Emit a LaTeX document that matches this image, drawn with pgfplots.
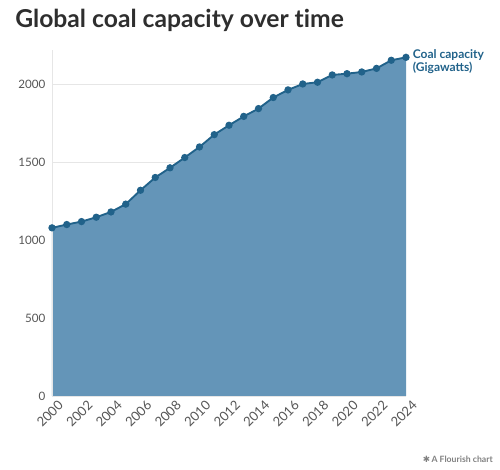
\documentclass[border=0pt]{standalone}
\usepackage{pgfplots}
\pgfplotsset{compat=1.18}
\usepackage{fontspec}
\setmainfont{Lato}[Contextuals=NoAlternate]
\newfontfamily\symfont{DejaVu Sans}
\definecolor{areafill}{HTML}{6495B8}
\definecolor{linecol}{HTML}{21628A}
\definecolor{ticktext}{HTML}{555555}
\definecolor{gridcol}{HTML}{E6E6E6}
\definecolor{titlecol}{HTML}{2E2E2E}
\pgfplotstableread{
year value
2000 1079
2001 1100
2002 1119
2003 1147
2004 1181
2005 1231
2006 1320
2007 1402
2008 1464
2009 1530
2010 1598
2011 1677
2012 1737
2013 1794
2014 1844
2015 1915
2016 1964
2017 2002
2018 2013
2019 2060
2020 2068
2021 2079
2022 2102
2023 2154
2024 2173
}\coal
\begin{document}
\begin{tikzpicture}
\path[use as bounding box] (0pt,0pt) rectangle (375pt,352.5pt);
\node[anchor=west,font=\fontsize{18.5}{20}\selectfont\bfseries,text=titlecol,inner sep=0] at (11.25pt,337.5pt) {Global coal capacity over t\kern0pt ime};
\begin{axis}[
  at={(39pt,55.5pt)}, anchor=south west,
  scale only axis,
  width=265.5pt, height=259.5pt,
  xmin=2000, xmax=2024,
  ymin=0, ymax=2220,
  axis line style={draw=none},
  xtick={2000,2002,...,2024},
  ytick={0,500,1000,1500,2000},
  ymajorgrids, grid style={gridcol, line width=0.6pt},
  major tick length=0pt,
  xticklabel style={rotate=45, anchor=north east, font=\fontsize{9.8}{10}\selectfont, text=ticktext, inner sep=1pt, yshift=-3.5pt, xshift=2pt},
  yticklabel style={font=\fontsize{8.7}{10}\selectfont, text=ticktext, xshift=-1.5pt},
  /pgf/number format/assume math mode=true,
  /pgf/number format/1000 sep={},
  clip=false,
]
\addplot[draw=none, fill=areafill, fill opacity=1] table[x=year,y=value]{\coal} \closedcycle;
\addplot[linecol, line width=1.4pt, mark=*, mark size=2pt, mark options={fill=linecol,draw=linecol}] table[x=year,y=value]{\coal};
\draw[gridcol, line width=0.6pt] (axis cs:2000,0) -- (axis cs:2000,2220);
\draw[gridcol, line width=0.6pt] (axis cs:2000,0) -- (axis cs:2024,0);
\node[anchor=north west, align=left, font=\fontsize{9}{8}\selectfont\bfseries, text=linecol, inner sep=0] at (axis cs:2024.45,2225) {Coal capacity\\(Gigawatts)};
\end{axis}
\node[anchor=east, font=\fontsize{6.5}{7}\selectfont\bfseries, text=gray, inner sep=0] at (369.75pt,8.25pt) {{\symfont ✱}\,A Flourish chart};
\end{tikzpicture}
\end{document}
